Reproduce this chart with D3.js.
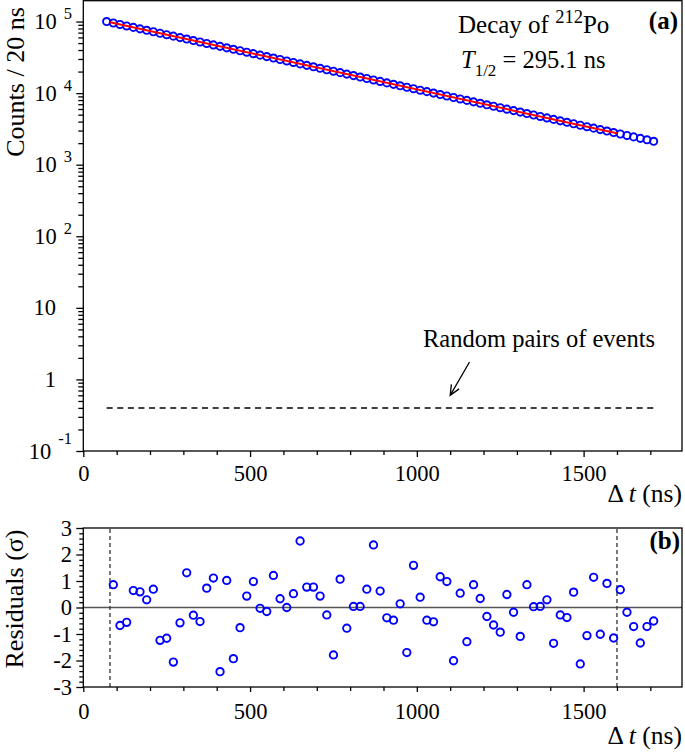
<!DOCTYPE html>
<html><head><meta charset="utf-8">
<script src="https://cdn.jsdelivr.net/npm/d3@7"></script>
<style>
body{margin:0;background:#fff}
svg{display:block}
text{font-family:"Liberation Serif","Times New Roman",serif;fill:#000}
</style>
</head><body>
<svg id="c" width="685" height="756" font-family="Liberation Serif, Times New Roman, serif"></svg>
<script>
// ---- data ----
const times = [70,90,110,130,150,170,190,210,230,250,270,290,310,330,350,370,390,410,430,450,470,490,510,530,550,570,590,610,630,650,670,690,710,730,750,770,790,810,830,850,870,890,910,930,950,970,990,1010,1030,1050,1070,1090,1110,1130,1150,1170,1190,1210,1230,1250,1270,1290,1310,1330,1350,1370,1390,1410,1430,1450,1470,1490,1510,1530,1550,1570,1590,1610,1630,1650,1670,1690,1710];
const counts = [100000,95410,91030,86860,82870,79070,75440,71980,68670,65520,
  62510,59650,56910,54300,51810,49430,47160,45000,42930,40960,
  39080,37290,35580,33940,32390,30900,29480,28130,26840,25610,
  24430,23310,22240,21220,20250,19320,18430,17580,16780,16010,
  15270,14570,13900,13270,12660,12080,11520,10990,10490,10010,
  9548,9110,8692,8293,7912,7549,7203,6872,6557,6256,
  5969,5695,5434,5184,4946,4719,4503,4296,4099,3911,
  3731,3560,3397,3241,3092,2950,2815,2686,2562,2445,
  2333,2226,2124];
const fitTimes = [80,1600];
const fitCounts = [97680,2750];
const bgTimes = [70,1710];
const bgCounts = [0.4,0.4];
const residTimes = [90,110,130,150,170,190,210,230,250,270,290,310,330,350,370,390,410,430,450,470,490,510,530,550,570,590,610,630,650,670,690,710,730,750,770,790,810,830,850,870,890,910,930,950,970,990,1010,1030,1050,1070,1090,1110,1130,1150,1170,1190,1210,1230,1250,1270,1290,1310,1330,1350,1370,1390,1410,1430,1450,1470,1490,1510,1530,1550,1570,1590,1610,1630,1650,1670,1690,1710];
const residuals = [0.86,-0.68,-0.56,0.64,0.59,0.29,0.69,-1.24,-1.16,-2.06,
  -0.58,1.31,-0.29,-0.53,0.73,1.11,-2.42,1.02,-1.93,-0.76,
  0.43,0.98,-0.03,-0.15,1.21,0.33,0.0,0.52,2.51,0.77,
  0.77,0.43,-0.28,-1.79,1.07,-0.78,0.04,0.04,0.69,2.36,
  0.62,-0.39,-0.48,0.14,-1.70,1.59,0.39,-0.48,-0.54,1.16,
  0.98,-2.01,0.54,-1.29,0.86,0.34,-0.34,-0.66,-0.93,0.49,
  -0.18,-1.09,0.86,0.03,0.04,0.29,-1.35,-0.28,-0.38,0.58,
  -2.13,-1.06,1.14,-1.01,0.91,-1.15,0.67,-0.18,-0.72,-1.34,
  -0.72,-0.51];
const fitWindow = [80,1600];
const xTicks = [0,500,1000,1500];
const xTickLabels = ["0","500","1000","1500"];
const yTicks = [0.1,1,10,100,1000,10000,100000];
const yTickBase = ["10","1","10","10","10","10","10"];
const yTickExp = ["-1","","","2","3","4","5"];
const residTicks = [-3,-2,-1,0,1,2,3];
const residTickLabels = ["-3","-2","-1","0","1","2","3"];

// ---- layout ----
const svg = d3.select("#c");
const L = 83.3, R = 682;
const x = d3.scaleLinear().domain([0,1795]).range([L,R]);
const yT = d3.scaleLog().domain([0.1,2e5]).range([451,0]);
const yB = d3.scaleLinear().domain([-3,3]).range([687,528]);
const BLUE = "#0000ff";

const xMinor = d3.range(100,1800,100).filter(v => v % 500 !== 0 && x(v) < R);
const yMinor = [];
for (let k=-1;k<=5;k++) for (let m=2;m<=9;m++){const v=m*Math.pow(10,k); if(v<2e5) yMinor.push(v);}
const rMinor = d3.range(-3,3.001,0.2).map(v=>+v.toFixed(1)).filter(v=>Math.abs(v-Math.round(v))>1e-6);

function styleAxis(g){
  g.attr("font-family",null).attr("font-size",null);
  g.select(".domain").remove();
  g.selectAll("line").attr("stroke","#000").attr("stroke-width",1.3);
  g.selectAll("text").attr("font-size",22.5);
}

// ===== Top panel =====
const gTop = svg.append("g");
gTop.append("g").attr("transform","translate(0,451)")
  .call(d3.axisBottom(x).tickValues(xMinor).tickSize(4).tickFormat(""))
  .call(styleAxis);
gTop.append("g").attr("transform","translate(0,451)")
  .call(d3.axisBottom(x).tickValues(xTicks).tickSize(6).tickPadding(8).tickFormat((d,i)=>xTickLabels[i]))
  .call(styleAxis);
gTop.append("g").attr("transform",`translate(${L},0)`)
  .call(d3.axisLeft(yT).tickValues(yMinor).tickSize(5).tickFormat(""))
  .call(styleAxis);
gTop.append("g").attr("transform",`translate(${L},0)`)
  .call(d3.axisLeft(yT).tickValues(yTicks).tickSize(7).tickFormat(""))
  .call(styleAxis);
yTicks.forEach((v,i)=>{
  const yy = yT(v) + 7.5;
  if (yTickExp[i]) {
    const t = gTop.append("text").attr("x",72).attr("y",yy).attr("text-anchor","end").attr("font-size",22.5);
    t.append("tspan").text(yTickBase[i]);
    t.append("tspan").attr("dx",7).attr("dy", yTickExp[i]==="-1" ? -15 : -10).attr("font-size",16.5).text(yTickExp[i]);
  } else {
    gTop.append("text").attr("x",56).attr("y",yy).attr("text-anchor","end").attr("font-size",22.5).text(yTickBase[i]);
  }
});
gTop.append("rect").attr("x",L).attr("y",0.7).attr("width",R-L).attr("height",451-0.7)
  .attr("fill","none").attr("stroke","#000").attr("stroke-width",1.3);

gTop.append("path")
  .attr("d", d3.line().x((d,i)=>x(bgTimes[i])).y((d,i)=>yT(bgCounts[i]))(bgTimes))
  .attr("fill","none").attr("stroke","#000").attr("stroke-width",1.5).attr("stroke-dasharray","6,4.6");

gTop.selectAll("circle.d").data(times).join("circle")
  .attr("cx",(d,i)=>x(times[i])).attr("cy",(d,i)=>yT(counts[i])).attr("r",3.6)
  .attr("fill","none").attr("stroke",BLUE).attr("stroke-width",1.9);
gTop.append("path")
  .attr("d", d3.line().x((d,i)=>x(fitTimes[i])).y((d,i)=>yT(fitCounts[i]))(fitTimes))
  .attr("fill","none").attr("stroke","#ff0000").attr("stroke-width",2);

const t1 = gTop.append("text").attr("x",458).attr("y",33).attr("font-size",25);
t1.append("tspan").text("Decay of ");
t1.append("tspan").attr("dy",-10).attr("font-size",18.5).text("212");
t1.append("tspan").attr("dy",10).text("Po");
const t2 = gTop.append("text").attr("x",461).attr("y",68).attr("font-size",24.5);
t2.append("tspan").attr("font-style","italic").text("T");
t2.append("tspan").attr("dy",8).attr("font-size",17).text("1/2");
t2.append("tspan").attr("dy",-8).text(" = 295.1 ns");
gTop.append("text").attr("x",678).attr("y",29).attr("text-anchor","end")
  .attr("font-size",25).attr("font-weight","bold").text("(a)");
gTop.append("text").attr("x",423).attr("y",347).attr("font-size",24.5).text("Random pairs of events");
const ax0 = x(1158), ay0 = yT(1.75), ax1 = x(1100), ay1 = yT(0.6);
const ang = Math.atan2(ay1-ay0, ax1-ax0), hl = 11, ha = 0.42;
gTop.append("path")
  .attr("d",`M${ax0},${ay0}L${ax1},${ay1}M${ax1-hl*Math.cos(ang-ha)},${ay1-hl*Math.sin(ang-ha)}L${ax1},${ay1}L${ax1-hl*Math.cos(ang+ha)},${ay1-hl*Math.sin(ang+ha)}`)
  .attr("fill","none").attr("stroke","#000").attr("stroke-width",1.3);
gTop.append("text").attr("transform","translate(24,82) rotate(-90)").attr("text-anchor","middle")
  .attr("font-size",26).text("Counts / 20 ns");
const xt1 = gTop.append("text").attr("x",682).attr("y",502).attr("text-anchor","end").attr("font-size",25.5);
xt1.append("tspan").text("\u0394 ");
xt1.append("tspan").attr("font-style","italic").text("t");
xt1.append("tspan").text(" (ns)");

// ===== Bottom panel =====
const gBot = svg.append("g");
gBot.append("g").attr("transform","translate(0,687)")
  .call(d3.axisBottom(x).tickValues(xMinor).tickSize(4).tickFormat(""))
  .call(styleAxis);
gBot.append("g").attr("transform","translate(0,687)")
  .call(d3.axisBottom(x).tickValues(xTicks).tickSize(5).tickPadding(11).tickFormat((d,i)=>xTickLabels[i]))
  .call(styleAxis);
gBot.append("g").attr("transform",`translate(${L},0)`)
  .call(d3.axisLeft(yB).tickValues(rMinor).tickSize(4).tickFormat(""))
  .call(styleAxis);
gBot.append("g").attr("transform",`translate(${L},0)`)
  .call(d3.axisLeft(yB).tickValues(residTicks).tickSize(7).tickFormat(""))
  .call(styleAxis);
residTicks.forEach((v,i)=>{
  gBot.append("text").attr("x",72).attr("y",yB(v)+7.5).attr("text-anchor","end").attr("font-size",22.5).text(residTickLabels[i]);
});
gBot.append("line").attr("x1",L).attr("x2",R).attr("y1",yB(0)).attr("y2",yB(0))
  .attr("stroke","#555").attr("stroke-width",1.5);
fitWindow.forEach(v=>{
  gBot.append("line").attr("x1",x(v)).attr("x2",x(v)).attr("y1",yB(-3)).attr("y2",yB(3))
    .attr("stroke","#333").attr("stroke-width",1.3).attr("stroke-dasharray","4,3");
});
gBot.append("rect").attr("x",L).attr("y",yB(3)).attr("width",R-L).attr("height",yB(-3)-yB(3))
  .attr("fill","none").attr("stroke","#000").attr("stroke-width",1.3);
gBot.selectAll("circle.r").data(residTimes).join("circle")
  .attr("cx",(d,i)=>x(residTimes[i])).attr("cy",(d,i)=>yB(residuals[i])).attr("r",3.7)
  .attr("fill","none").attr("stroke",BLUE).attr("stroke-width",1.9);
gBot.append("text").attr("x",680).attr("y",549).attr("text-anchor","end")
  .attr("font-size",25).attr("font-weight","bold").text("(b)");
gBot.append("text").attr("transform","translate(23,599) rotate(-90)").attr("text-anchor","middle")
  .attr("font-size",26).text("Residuals (\u03c3)");
const xt2 = gBot.append("text").attr("x",682).attr("y",744).attr("text-anchor","end").attr("font-size",25.5);
xt2.append("tspan").text("\u0394 ");
xt2.append("tspan").attr("font-style","italic").text("t");
xt2.append("tspan").text(" (ns)");
</script>
</body></html>
